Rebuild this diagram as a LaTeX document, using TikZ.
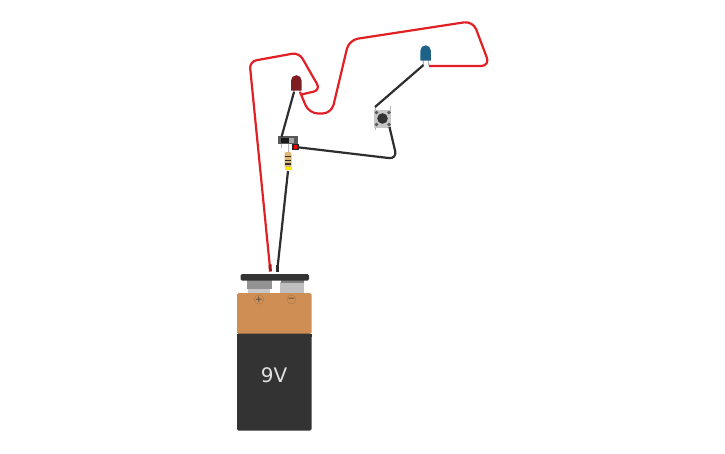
\documentclass[tikz,border=0pt]{standalone}
\usepackage{fontspec}
\setmainfont{DejaVu Sans}
\definecolor{wred}{HTML}{E02024}
\definecolor{wblk}{HTML}{2E2E2E}
\definecolor{orangeb}{HTML}{CF8F54}
\definecolor{darkb}{HTML}{333333}
\definecolor{ledred}{HTML}{7F1E22}
\definecolor{ledblue}{HTML}{1F6288}
\definecolor{legc}{HTML}{B4B4B4}
\definecolor{resbody}{HTML}{DDB878}
\tikzset{
  redwire/.style={draw=wred,line width=2.2pt,rounded corners=7pt,line join=round},
  blackwire/.style={draw=wblk,line width=2.2pt,rounded corners=6pt},
  leg/.style={draw=legc,line width=1.2pt},
}
\begin{document}
\begin{tikzpicture}[x=1pt,y=-1pt]
\useasboundingbox (0,0) rectangle (725,453);
% coordinates
\coordinate (batplus) at (270,268);
\coordinate (batminus) at (277.5,268);
\coordinate (redA) at (301.5,94.5);
\coordinate (redB) at (300,92);
\coordinate (redLegL) at (294,92);
\coordinate (blueLegR) at (429,66);
\coordinate (blueLegL) at (423.5,65);
\coordinate (swL) at (281.5,137);
\coordinate (resB) at (288,171);
\coordinate (btnTL) at (375,107);
\coordinate (btnBR) at (389.5,127);
% battery
\fill[legc!75!white] (248,287) rectangle (270,294);
\fill[legc!85!white] (280,282) rectangle (304,294);
\fill[gray!85!white] (247,280) rectangle (272,289);
\fill[gray] (281,280) rectangle (304,283);
\fill[darkb,rounded corners=1.5pt] (240.5,274) rectangle (309,280.5);
\fill[orangeb,rounded corners=1.5pt] (237,334) -- (237,293) -- (311.5,293) -- (311.5,334) -- cycle;
\fill[darkb,rounded corners=1.5pt] (237,333.5) -- (237,430.5) -- (311.5,430.5) -- (311.5,333.5) -- cycle;
\fill[darkb] (237,333.5) rectangle (311.5,337);
\node[text=white!88!black,font=\fontsize{20}{23}\selectfont,inner sep=0] (nine) at (274,375.5) {9V};
\node[circle,draw=black!20!orangeb,line width=.3pt,minimum size=9pt,inner sep=0,font=\fontsize{9}{9}\selectfont,text=black!75] (plus) at (259,299.5) {+};
\node[circle,draw=black!20!orangeb,line width=.3pt,minimum size=9pt,inner sep=0,font=\fontsize{9}{9}\selectfont,text=black!75] (minus) at (291.5,299.5) {−};
% LED red
\draw[leg] (294,86) -- (redLegL);
\draw[leg] (299,86) -- (redB);
\fill[ledred] (291,90.5) -- (291,80.5) arc[start angle=180,end angle=360,radius=5.3] -- (301.6,90.5) -- cycle;
\node[inner sep=0] (ledr) at (296,84) {};
% LED blue
\draw[leg] (423,58) -- (blueLegL);
\draw[leg] (428,58) -- (blueLegR);
\fill[ledblue] (420.4,60.5) -- (420.4,50.5) arc[start angle=180,end angle=360,radius=5.2] -- (430.8,60.5) -- cycle;
\node[inner sep=0] (ledb) at (425.5,54) {};
% push button
\draw[leg,line width=.8pt] (375,106) -- (375,130);
\draw[leg,line width=.8pt] (390,106) -- (390,130);
\node[fill=black!22,minimum width=17pt,minimum height=18pt,inner sep=0] (btn) at (382.5,118.5) {};
\fill[black!65] (376.5,112.5) circle (1.8) (389,112.5) circle (1.8) (376.5,124.5) circle (1.8) (389,124.5) circle (1.8);
\fill[black!80] (382.5,118.5) circle (5.3);
% resistor
\draw[leg,line width=1pt] (288,148) -- (288,170);
\fill[resbody,rounded corners=2pt] (284.5,152) rectangle (291.5,168);
\fill[wblk] (284.8,156) rectangle (291.2,157.3);
\fill[wblk] (284.8,160) rectangle (291.2,161.3);
\fill[wblk] (284.8,163) rectangle (291.2,164.6);
\fill[yellow!90!orange] (284.5,166.5) rectangle (291.5,170);
\node[inner sep=0] (res) at (288,160) {};
% slide switch
\draw[leg,line width=.8pt] (281,144) -- (281,148);
\draw[leg,line width=.8pt] (288,144) -- (288,148);
\node[fill=black!65,minimum width=20pt,minimum height=8pt,inner sep=0] (sw) at (287.5,140) {};
\fill[black!90] (281,138) rectangle (289,143);
\fill[black!35] (289,138) rectangle (294,142.5);
\node[fill=red,draw=black!85,line width=1.3pt,minimum size=5pt,inner sep=0] (swpin) at (295.5,147) {};
% wires
\draw[redwire] (batplus) -- (249.5,61.5) -- (299,52.5) -- (320.5,90) -- (redA);
\draw[redwire,rounded corners=9pt] (redB) -- (309,113.5) -- (331.5,113.5) -- (349,40) -- (473,21) -- (490,66) -- (blueLegR);
\draw[blackwire] (batminus) -- (resB);
\draw[blackwire] (redLegL) -- (swL);
\draw[blackwire,rounded corners=8pt] (swpin) -- (397,159) -- (btnBR);
\draw[blackwire] (btnTL) -- (blueLegL);
\draw[redwire,line width=3pt,draw=wred!75!black,rounded corners=0pt] (270,264.5) -- (270.4,271.5);
\draw[blackwire,line width=3pt,rounded corners=0pt] (277.5,264.5) -- (277.5,271.5);
\end{tikzpicture}
\end{document}
